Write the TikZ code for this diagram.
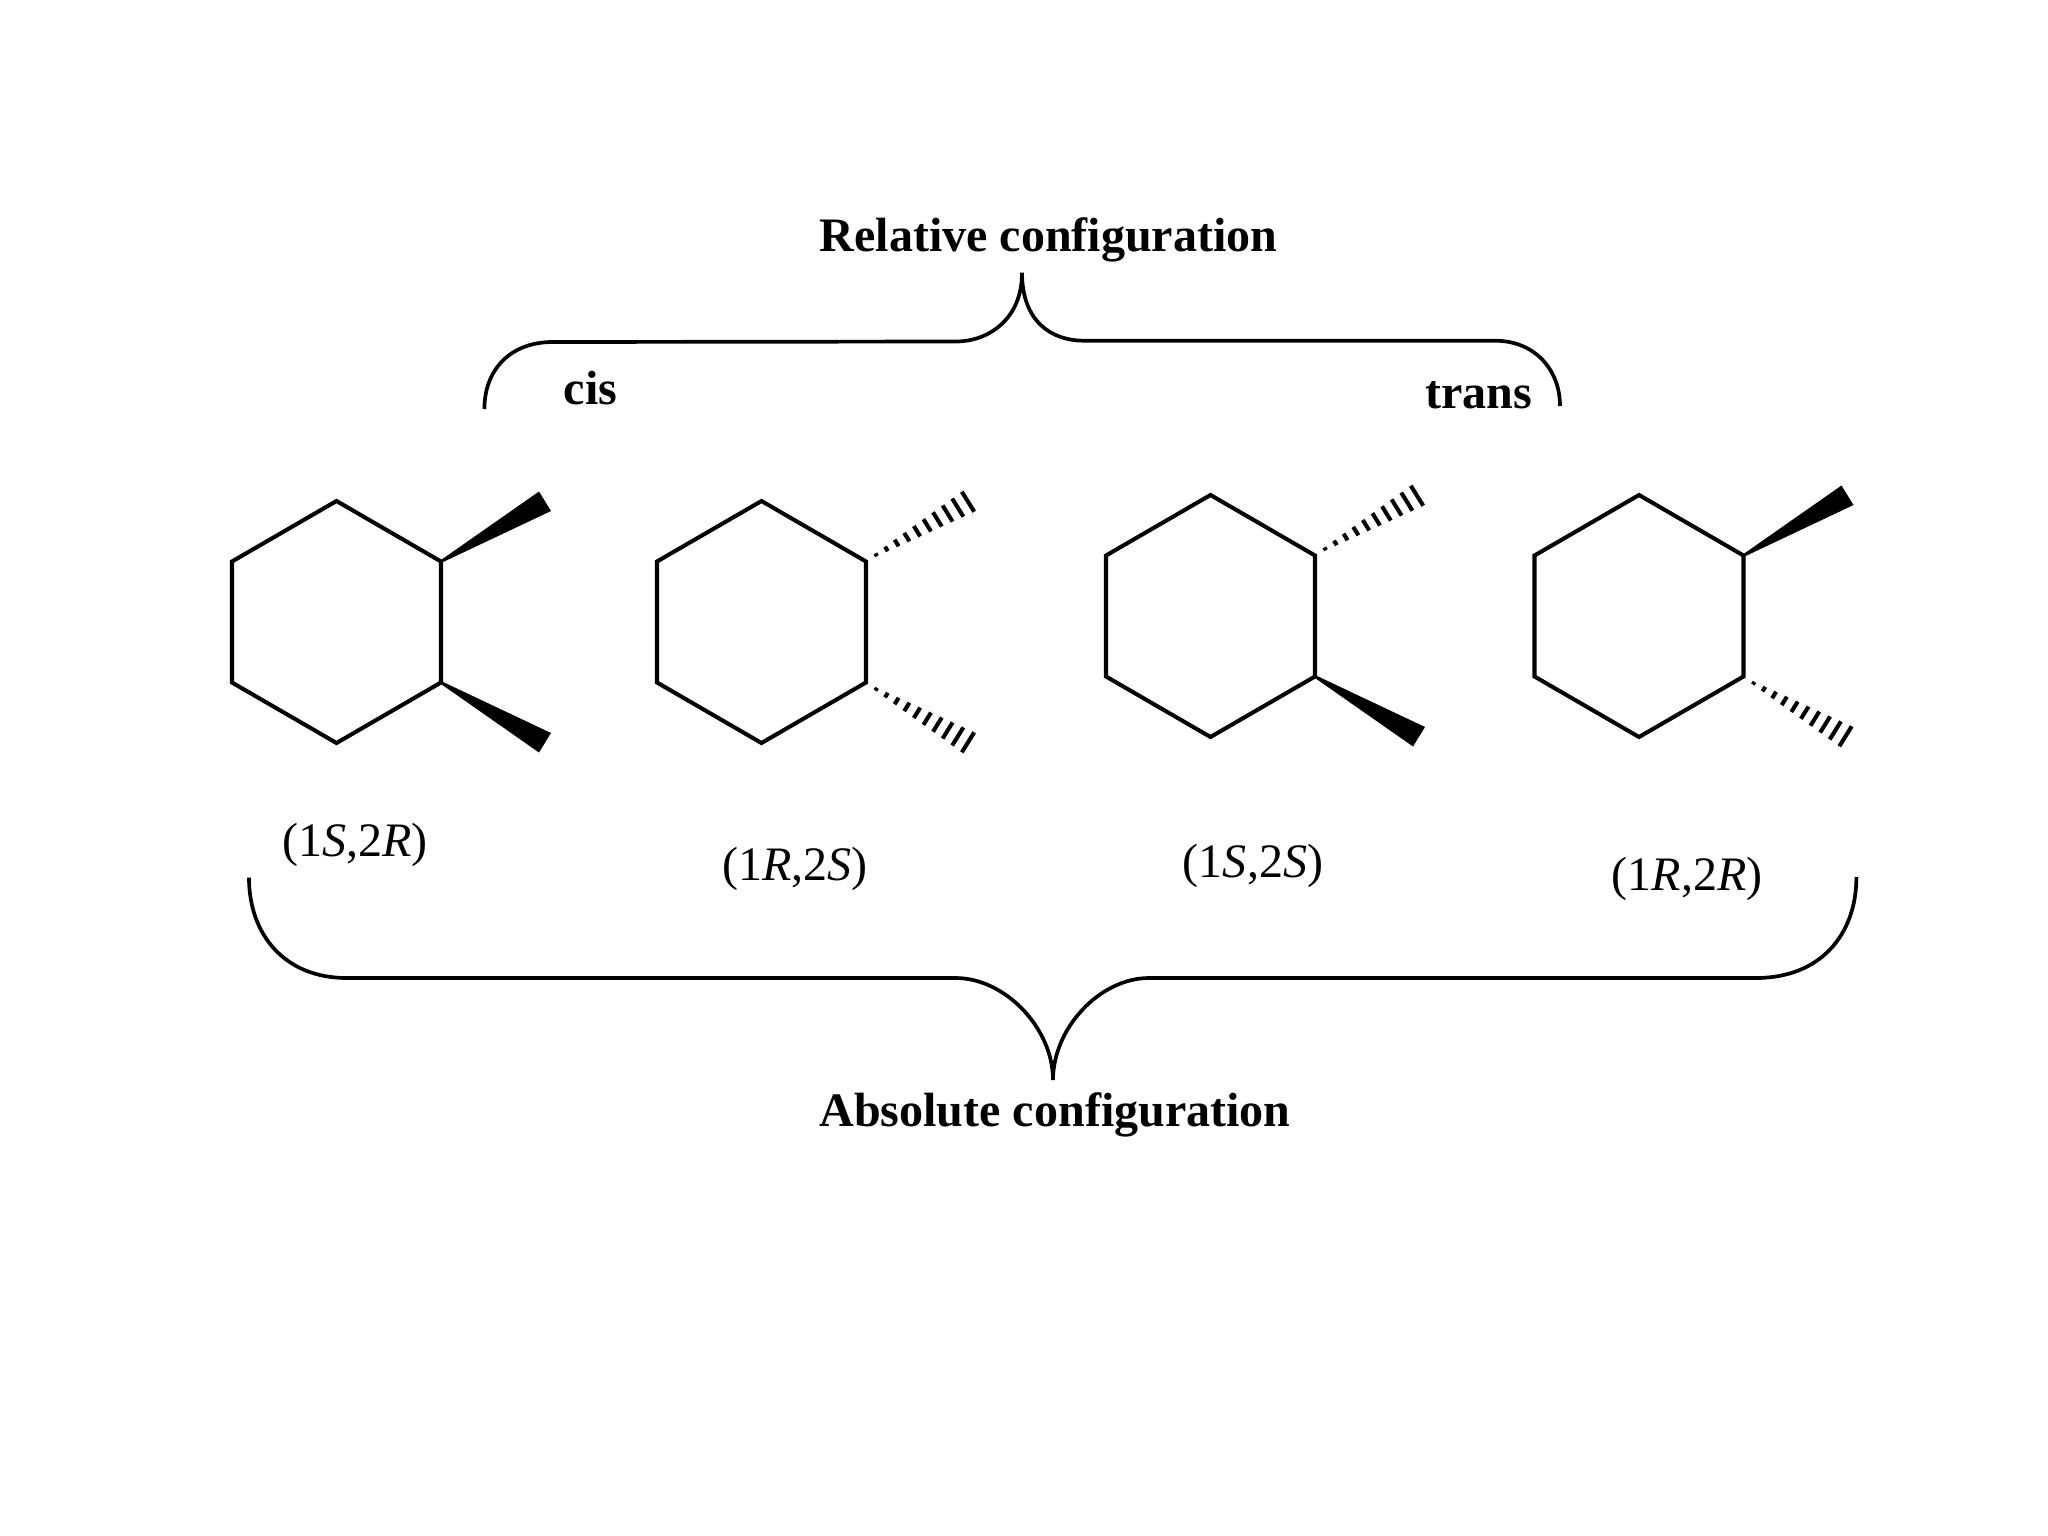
\documentclass[tikz,border=0pt]{standalone}
\usepackage{fontspec}
\setmainfont{Liberation Serif}
\usetikzlibrary{calc}
\tikzset{
	% ------- every something
	every node/.style={
		font=\fontsize{13.66}{16}\selectfont, inner sep=0pt, anchor=base,
	},
	% ------- custom
	bond/.style={
		line width=1.15pt, line join=miter,
	},
	brace/.style={
		line width=1.05pt,
	},
	title/.style={
		font=\fontsize{13.66}{16}\selectfont\bfseries,
	},
	ring/.pic={
		\draw[bond] (-104.5,-60.5) -- (0,-121) -- (104.5,-60.5) -- (104.5,60.5) -- (0,121) -- (-104.5,60.5) -- cycle;
	},
	wedge/.pic={
		\fill (0,-1.5) -- (110,50.5) -- (98,70) -- (0,1.5) -- cycle;
	},
	hash/.pic={
		\foreach \i in {0,...,9} {
			\pgfmathsetmacro{\cx}{10.2+10.2*\i}
			\pgfmathsetmacro{\cy}{6.7+5.9*\i}
			\pgfmathsetmacro{\r}{(\i+1.4)/10.4}
			\draw[line width=1.15pt] (\cx+6.2*\r,\cy-10*\r) -- (\cx-6.2*\r,\cy+10*\r);
		}
	},
}
\begin{document}
\begin{tikzpicture}[x=0.01cm,y=-0.01cm]

% bounding box %{{{1

	\useasboundingbox (0,0) rectangle (2048,1536);

% coordinates %{{{1

	\coordinate (A) at (336.5,622);
	\coordinate (B) at (761.5,622);
	\coordinate (C) at (1210.5,616);
	\coordinate (D) at (1639,616);

% rings %{{{1

	\pic at (A) {ring};
	\pic at (B) {ring};
	\pic at (C) {ring};
	\pic at (D) {ring};

% wedges, hashes %{{{1

	\pic[yscale=-1] at ($(A)+(104.5,-60.5)$) {wedge};
	\pic at ($(A)+(104.5,60.5)$) {wedge};

	\pic[yscale=-1] at ($(B)+(104.5,-60.5)$) {hash};
	\pic at ($(B)+(104.5,60.5)$) {hash};

	\pic[yscale=-1] at ($(C)+(104.5,-60.5)$) {hash};
	\pic at ($(C)+(104.5,60.5)$) {wedge};

	\pic[yscale=-1] at ($(D)+(104.5,-60.5)$) {wedge};
	\pic at ($(D)+(104.5,60.5)$) {hash};

% braces %{{{1

	\draw[brace] (484.4,409)
		.. controls (484.4,370) and (510,342) .. (552.7,342)
		-- (956.7,341.5)
		.. controls (985,341.5) and (1022,322) .. (1022,272.7)
		.. controls (1022,322) and (1052,340.7) .. (1083.6,340.7)
		-- (1495,340.7)
		.. controls (1535,340.7) and (1560,370) .. (1560,406);

	\draw[brace] (249,877.7)
		.. controls (249,935) and (285,978) .. (346.7,978)
		-- (955.7,978)
		.. controls (1005,978) and (1053,1028) .. (1053,1080)
		.. controls (1053,1028) and (1100,978) .. (1149,978)
		-- (1756,978)
		.. controls (1820,978) and (1856.4,935) .. (1856.4,877);

% labels %{{{1

	\node[title] (relative) at (1048.5,251) {Relative configuration};
	\node[title] (absolute) at (1055,1126.5) {Absolute configuration};
	\node[title] (cis) at (590.5,404) {cis};
	\node[title] (trans) at (1479,408) {trans};

	\node (nameA) at (355,856) {(1\textit{S},2\textit{R})};
	\node (nameB) at (795,880) {(1\textit{R},2\textit{S})};
	\node (nameC) at (1253,877) {(1\textit{S},2\textit{S})};
	\node (nameD) at (1687,890) {(1\textit{R},2\textit{R})};

% closing %{{{1

\end{tikzpicture}
\end{document}
